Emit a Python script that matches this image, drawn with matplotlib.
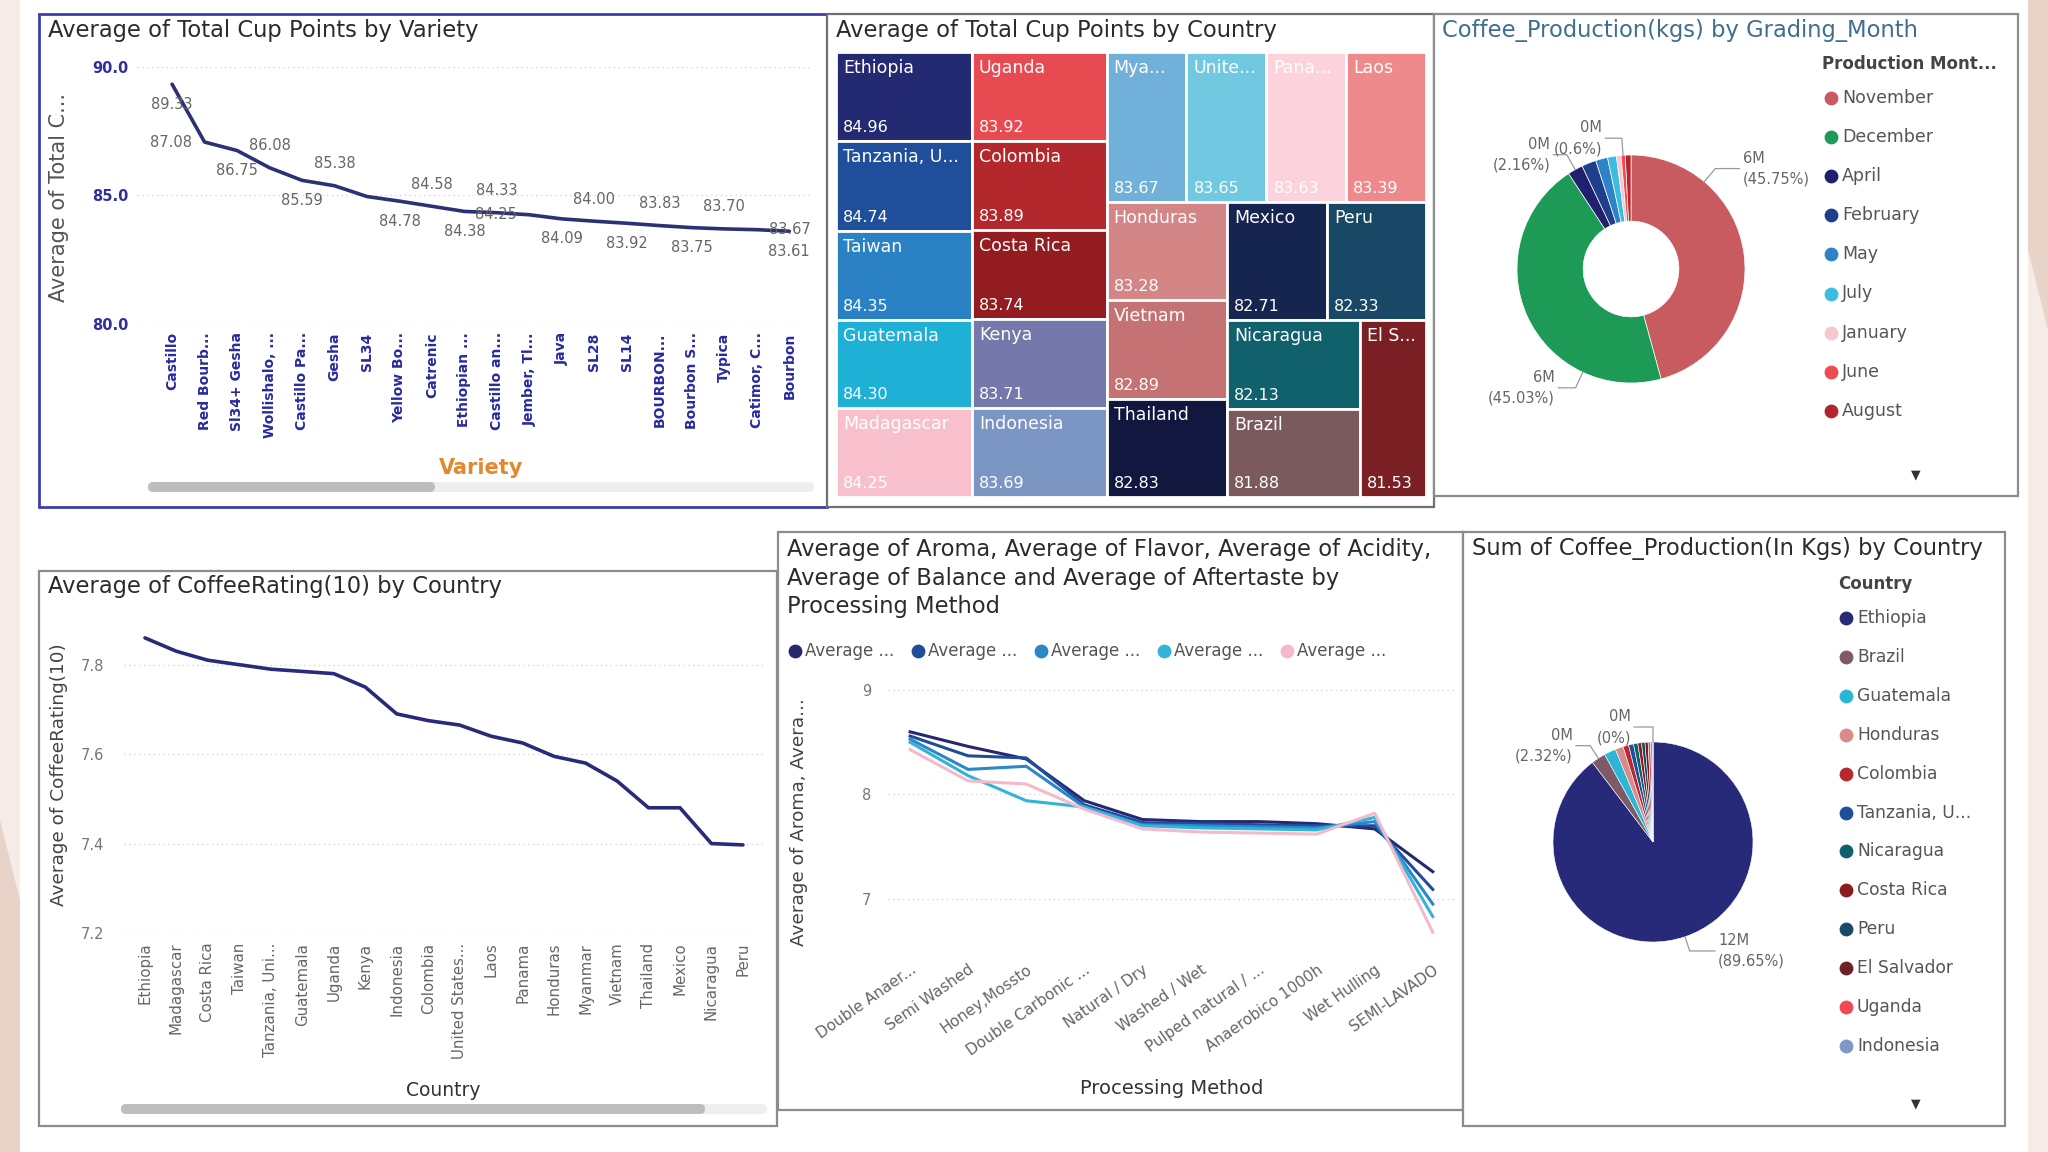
import math
import matplotlib
matplotlib.use("Agg")
import matplotlib.pyplot as plt
from matplotlib.patches import Rectangle, Polygon, FancyBboxPatch

W, H = 2048, 1152
plt.rcParams['font.family'] = ['DejaVu Sans']

# ---------------- data ----------------
varieties = ['Castillo', 'Red Bourb...', 'Sl34+ Gesha', 'Wollishalo, ...', 'Castillo Pa...', 'Gesha',
             'SL34', 'Yellow Bo...', 'Catrenic', 'Ethiopian ...', 'Castillo an...', 'Jember, Tl...',
             'Java', 'SL28', 'SL14', 'BOURBON...', 'Bourbon S...', 'Typica', 'Catimor, C...', 'Bourbon']
variety_points = [89.33, 87.08, 86.75, 86.08, 85.59, 85.38, 84.96, 84.78, 84.58, 84.38, 84.33, 84.25,
                  84.09, 84.00, 83.92, 83.83, 83.75, 83.70, 83.67, 83.61]
variety_labelled = [True] * 6 + [False] + [True] * 13

tm_names = ['Ethiopia', 'Tanzania, U...', 'Taiwan', 'Guatemala', 'Madagascar',
            'Uganda', 'Colombia', 'Costa Rica', 'Kenya', 'Indonesia',
            'Mya...', 'Unite...', 'Pana...', 'Laos',
            'Honduras', 'Vietnam', 'Thailand', 'Mexico', 'Peru', 'Nicaragua', 'Brazil', 'El S...']
tm_points = [84.96, 84.74, 84.35, 84.30, 84.25, 83.92, 83.89, 83.74, 83.71, 83.69,
             83.67, 83.65, 83.63, 83.39, 83.28, 82.89, 82.83, 82.71, 82.33, 82.13, 81.88, 81.53]
tm_colors = ['#232a72', '#1f4e9b', '#2a82c5', '#1fb0d5', '#f8c0cc',
             '#e84a51', '#b2282d', '#921c20', '#7478aa', '#7c96c4',
             '#70b0d9', '#70c9e0', '#fcd3dc', '#ee8a8c',
             '#d48687', '#c47273', '#12173f', '#15254f', '#184865', '#10616b', '#7b5a5e', '#7a2024']

months = ['November', 'December', 'April', 'February', 'May', 'July', 'January', 'June', 'August']
month_kgs = [6117000, 6021000, 288800, 274000, 227000, 168500, 87000, 80200, 106500]
month_colors = ['#c75b5f', '#1c9a56', '#20206e', '#1f3f8c', '#2f82c6', '#3bbce0', '#f6c6d1', '#ef4b55', '#b3242d']

rating_countries = ['Ethiopia', 'Madagascar', 'Costa Rica', 'Taiwan', 'Tanzania, Uni...', 'Guatemala',
                    'Uganda', 'Kenya', 'Indonesia', 'Colombia', 'United States...', 'Laos', 'Panama',
                    'Honduras', 'Myanmar', 'Vietnam', 'Thailand', 'Mexico', 'Nicaragua', 'Peru']
rating_values = [7.86, 7.83, 7.81, 7.80, 7.79, 7.785, 7.78, 7.75, 7.69, 7.675, 7.665, 7.64, 7.625,
                 7.595, 7.58, 7.54, 7.48, 7.48, 7.40, 7.397]

methods = ['Double Anaer...', 'Semi Washed', 'Honey,Mossto', 'Double Carbonic ...', 'Natural / Dry',
           'Washed / Wet', 'Pulped natural / ...', 'Anaerobico 1000h', 'Wet Hulling', 'SEMI-LAVADO']
aroma = [8.60, 8.46, 8.34, 7.94, 7.76, 7.74, 7.74, 7.72, 7.67, 7.26]
flavor = [8.56, 8.37, 8.35, 7.90, 7.73, 7.72, 7.71, 7.70, 7.70, 7.09]
acidity = [8.53, 8.24, 8.27, 7.88, 7.71, 7.70, 7.69, 7.68, 7.74, 6.95]
balance = [8.50, 8.18, 7.94, 7.88, 7.70, 7.68, 7.67, 7.66, 7.78, 6.83]
aftertaste = [8.43, 8.13, 8.10, 7.86, 7.67, 7.64, 7.63, 7.62, 7.82, 6.68]
attr_colors = ['#27276f', '#1f4d9c', '#2b87c8', '#33b3d8', '#f4b9ca']

prod_countries = ['Ethiopia', 'Brazil', 'Guatemala', 'Honduras', 'Colombia', 'Tanzania, U...',
                  'Nicaragua', 'Costa Rica', 'Peru', 'El Salvador', 'Uganda', 'Indonesia', 'Panama']
prod_kgs = [11986500, 310200, 254000, 174000, 120300, 107000, 93600, 80200, 73500, 66900, 53500, 50800, 500]
prod_colors = ['#262a78', '#7d5a66', '#2bb5d6', '#d98a8c', '#b8292e', '#1f4f9a', '#10606b',
               '#8f1a1e', '#1a4a6a', '#6e2228', '#ef4a55', '#7e98c5', '#c9a0b0']

TITLE = '#2b2b2b'
GREY = '#666666'


def box(x0, y0, x1, y1):
    return [x0 / W, 1 - y1 / H, (x1 - x0) / W, (y1 - y0) / H]


def fmt_pct(p):
    s = '%.2f' % p
    return s.rstrip('0').rstrip('.')


def fmt_label(kg, total):
    return '%dM\n(%s%%)' % (round(kg / 1e6), fmt_pct(kg / total * 100))


fig = plt.figure(figsize=(W / 100, H / 100), dpi=100)
fig.patch.set_facecolor('white')

# overlay in pixel coordinates for frames, titles and legends
ov = fig.add_axes([0, 0, 1, 1], zorder=0)
ov.set_xlim(0, W)
ov.set_ylim(H, 0)
ov.axis('off')

# decorative side strips
ov.add_patch(Rectangle((0, 0), 20, H, color='#f5ece8', lw=0))
ov.add_patch(Polygon([(0, 820), (20, 900), (20, H), (0, H)], color='#e8d3c9', lw=0))
ov.add_patch(Rectangle((2028, 0), 20, H, color='#f5ece8', lw=0))
ov.add_patch(Polygon([(2028, 0), (2048, 0), (2048, 330), (2028, 250)], color='#e8d3c9', lw=0))


def panel(x0, y0, x1, y1, color='#8c8c8c', lw=1.6):
    ov.add_patch(Rectangle((x0, y0), x1 - x0, y1 - y0, facecolor='white', edgecolor=color, lw=lw))


def scrollbar(x0, x1, xt, y):
    ov.add_patch(FancyBboxPatch((x0, y - 5), x1 - x0, 10, boxstyle='round,pad=0,rounding_size=5',
                                color='#eeeeee', lw=0))
    ov.add_patch(FancyBboxPatch((x0, y - 5), xt - x0, 10, boxstyle='round,pad=0,rounding_size=5',
                                color='#bdbdbd', lw=0))


panel(39, 14, 827, 507, color='#3c3cae', lw=2)
panel(827, 14, 1434, 507, color='#6f6f6f')
panel(1434, 14, 2018, 496)
panel(39, 571, 777, 1126)
panel(778, 532, 1463, 1110)
panel(1463, 532, 2005, 1126)

TS = 16.3
tkw = dict(fontsize=TS, color=TITLE, va='center', ha='left')
ov.text(48, 31, 'Average of Total Cup Points by Variety', **tkw)
ov.text(836, 31, 'Average of Total Cup Points by Country', **tkw)
ov.text(1442, 31, 'Coffee_Production(kgs) by Grading_Month', fontsize=TS, color='#3e6f8e', va='center')
ov.text(48, 587, 'Average of CoffeeRating(10) by Country', **tkw)
ov.text(787, 578, 'Average of Aroma, Average of Flavor, Average of Acidity,\n'
        'Average of Balance and Average of Aftertaste by\nProcessing Method',
        fontsize=TS, color=TITLE, va='center', ha='left', linespacing=1.3)
ov.text(1472, 548, 'Sum of Coffee_Production(In Kgs) by Country', **tkw)

# ---------------- panel 1: line by variety ----------------
ax1 = fig.add_axes(box(137, 67, 812, 324), zorder=2)
ax1.set_facecolor('none')
x1 = list(range(len(varieties)))
ax1.plot(x1, variety_points, color='#2c3175', lw=2.6, clip_on=False, solid_capstyle='round')
ax1.set_ylim(80, 90)
ax1.set_xlim(-1.08, len(varieties) - 1 + 0.7)
ax1.set_yticks([80, 85, 90])
ax1.set_yticklabels(['80.0', '85.0', '90.0'], fontsize=10.5, fontweight='bold', color='#2f2fa0')
ax1.set_xticks(x1)
ax1.set_xticklabels(varieties, rotation=90, fontsize=10, fontweight='bold', color='#2a2aa0',
                    va='top', ha='center')
ax1.tick_params(length=0, pad=6)
ax1.grid(axis='y', color='#d6d6d6', linestyle=(0, (1, 2.5)), lw=1)
for s in ax1.spines.values():
    s.set_visible(False)
offsets = [(0, -20), (-34, 0), (0, -20), (0, 22), (0, -20), (0, 22), (0, 0), (0, -20), (0, 22),
           (0, -20), (0, 22), (-33, 0), (0, -20), (0, 22), (0, -20), (0, 22), (0, -20), (0, 22),
           (33, 0), (0, -20)]
for xi, v, show, off in zip(x1, variety_points, variety_labelled, offsets):
    if show:
        ax1.annotate('%.2f' % v, (xi, v), xytext=off, textcoords='offset pixels',
                     ha='center', va='center', fontsize=10.5, color=GREY)
ov.text(59, 198, 'Average of Total C...', rotation=90, fontsize=15, color='#555555',
        ha='center', va='center')
ov.text(481, 468, 'Variety', fontsize=15, fontweight='bold', color='#e0892e', ha='center', va='center')
scrollbar(148, 814, 435, 487)

# ---------------- panel 2: treemap ----------------


def worst(row, side):
    thick = sum(row) / side
    return max(max(thick / (a / thick), (a / thick) / thick) for a in row)


def treemap_rects(values, x, y, w, h, limit=2.0):
    total = float(sum(values))
    areas = [v * w * h / total for v in values]
    rects = []
    i = 0
    while i < len(areas):
        side = min(w, h)
        row = [areas[i]]
        j = i + 1
        while j < len(areas):
            cand = row + [areas[j]]
            if worst(cand, side) <= max(worst(row, side), limit):
                row = cand
                j += 1
            else:
                break
        thick = sum(row) / side
        if w >= h:
            yy = y
            for a in row:
                rects.append((x, yy, thick, a / thick))
                yy += a / thick
            x += thick
            w -= thick
        else:
            xx = x
            for a in row:
                rects.append((xx, y, a / thick, thick))
                xx += a / thick
            y += thick
            h -= thick
        i = j
    return rects


tw, th = 590, 445
ax2 = fig.add_axes(box(836, 52, 836 + tw, 52 + th), zorder=2)
ax2.set_xlim(0, tw)
ax2.set_ylim(th, 0)
ax2.axis('off')
for (rx, ry, rw, rh), name, val, col in zip(treemap_rects(tm_points, 0, 0, tw, th),
                                             tm_names, tm_points, tm_colors):
    ax2.add_patch(Rectangle((rx, ry), rw, rh, facecolor=col, edgecolor='white', lw=2))
    ax2.text(rx + 7, ry + 7, name, color='white', fontsize=12.5, ha='left', va='top')
    ax2.text(rx + 7, ry + rh - 6, '%.2f' % val, color='white', fontsize=11.5, ha='left', va='bottom')

# ---------------- panel 3: donut ----------------
R3 = 114
ax3 = fig.add_axes(box(1631 - 150, 269 - 150, 1631 + 150, 269 + 150), zorder=2)
ax3.pie(month_kgs, colors=month_colors, startangle=90, counterclock=False, radius=1,
        wedgeprops=dict(width=0.58, edgecolor='white', lw=0.5))
L3 = 150 / R3
ax3.set_xlim(-L3, L3)
ax3.set_ylim(-L3, L3)


def leader(ax, ang, text, tx, ha):
    a = math.radians(ang)
    p0 = (math.sin(a), math.cos(a))
    p1 = (1.15 * math.sin(a), 1.15 * math.cos(a))
    end = tx + (-0.03 if ha == 'left' else 0.03)
    ax.plot([p0[0], p1[0], end], [p0[1], p1[1], p1[1]], color='#9a9a9a', lw=0.9, clip_on=False)
    ax.text(tx, p1[1], text, ha=ha, va='center', fontsize=10.5, color=GREY, multialignment=ha,
            linespacing=1.5)


mtotal = float(sum(month_kgs))
leader(ax3, 40, fmt_label(month_kgs[0], mtotal), (1743 - 1631) / R3, 'left')
leader(ax3, 205, fmt_label(month_kgs[1], mtotal), (1555 - 1631) / R3, 'right')
leader(ax3, 330.7, fmt_label(month_kgs[2], mtotal), (1550 - 1631) / R3, 'right')
leader(ax3, 356, fmt_label(month_kgs[7], mtotal), (1602 - 1631) / R3, 'right')

ov.text(1822, 64, 'Production Mont...', fontsize=12, fontweight='bold', color='#444444', va='center')
for i, (m, c) in enumerate(zip(months, month_colors)):
    yy = 98 + i * 39.1
    ov.scatter([1831], [yy], s=80, color=c, zorder=3)
    ov.text(1842, yy, m, fontsize=12.5, color='#555555', va='center')
ov.text(1916, 475, '\u25bc', fontsize=9, color='#333333', ha='center', va='center')

# ---------------- panel 4: rating by country ----------------
ax4 = fig.add_axes(box(124, 620, 764, 933), zorder=2)
ax4.set_facecolor('none')
x4 = list(range(len(rating_countries)))
ax4.plot(x4, rating_values, color='#2a2a7a', lw=2.6, solid_capstyle='round')
ax4.set_ylim(7.2, 7.9)
ax4.set_xlim(-0.667, len(rating_countries) - 1 + 0.67)
ax4.set_yticks([7.2, 7.4, 7.6, 7.8])
ax4.set_yticklabels(['7.2', '7.4', '7.6', '7.8'], fontsize=10.5, color='#777777')
ax4.set_xticks(x4)
ax4.set_xticklabels(rating_countries, rotation=90, fontsize=10.8, color=GREY, va='top', ha='center')
ax4.tick_params(axis='y', length=0, pad=14)
ax4.tick_params(axis='x', length=0, pad=7)
ax4.grid(axis='y', color='#d6d6d6', linestyle=(0, (1, 2.5)), lw=1)
for s in ax4.spines.values():
    s.set_visible(False)
ov.text(59, 775, 'Average of CoffeeRating(10)', rotation=90, fontsize=13.3, color='#444444',
        ha='center', va='center')
ov.text(443, 1091, 'Country', fontsize=13.5, color='#333333', ha='center', va='center')
scrollbar(121, 767, 705, 1109)

# ---------------- panel 5: attributes by processing method ----------------
ax5 = fig.add_axes(box(888, 664, 1456, 951), zorder=2)
ax5.set_facecolor('none')
x5 = list(range(len(methods)))
for series, c in zip([aroma, flavor, acidity, balance, aftertaste], attr_colors):
    ax5.plot(x5, series, color=c, lw=2.2, solid_joinstyle='round')
ax5.set_ylim(6.5, 9.25)
ax5.set_xlim(-0.38, len(methods) - 1 + 0.4)
ax5.set_yticks([7, 8, 9])
ax5.set_yticklabels(['7', '8', '9'], fontsize=10.5, color='#777777')
ax5.set_xticks(x5)
ax5.set_xticklabels(methods, rotation=35, ha='right', rotation_mode='anchor', fontsize=11, color=GREY)
ax5.tick_params(axis='y', length=0, pad=12)
ax5.tick_params(axis='x', length=0, pad=8)
ax5.grid(axis='y', color='#d6d6d6', linestyle=(0, (1, 2.5)), lw=1)
for s in ax5.spines.values():
    s.set_visible(False)
for i, c in enumerate(attr_colors):
    xx = 795 + i * 123
    ov.scatter([xx], [651], s=80, color=c, zorder=3)
    ov.text(xx + 10, 651, 'Average ...', fontsize=12, color='#555555', va='center')
ov.text(799, 822, 'Average of Aroma, Avera...', rotation=90, fontsize=13.3, color='#444444',
        ha='center', va='center')
ov.text(1172, 1088, 'Processing Method', fontsize=14, color='#333333', ha='center', va='center')

# ---------------- panel 6: production by country pie ----------------
R6 = 100
ax6 = fig.add_axes(box(1653 - 130, 842 - 130, 1653 + 130, 842 + 130), zorder=2)
ax6.pie(prod_kgs, colors=prod_colors, startangle=90, counterclock=False, radius=1,
        wedgeprops=dict(edgecolor='white', lw=0.4))
L6 = 130 / R6
ax6.set_xlim(-L6, L6)
ax6.set_ylim(-L6, L6)
ptotal = float(sum(prod_kgs))
cum = 0.0
mids = []
for v in prod_kgs:
    mids.append((cum + v / 2) / ptotal * 360)
    cum += v
leader(ax6, mids[0], fmt_label(prod_kgs[0], ptotal), (1718 - 1653) / R6, 'left')
leader(ax6, mids[1], fmt_label(prod_kgs[1], ptotal), (1573 - 1653) / R6, 'right')
leader(ax6, mids[-1], fmt_label(prod_kgs[-1], ptotal), (1631 - 1653) / R6, 'right')

ov.text(1838, 584, 'Country', fontsize=12, fontweight='bold', color='#444444', va='center')
for i, (cn, c) in enumerate(zip(prod_countries[:12], prod_colors[:12])):
    yy = 618 + i * 38.9
    ov.scatter([1846], [yy], s=80, color=c, zorder=3)
    ov.text(1857, yy, cn, fontsize=12.3, color='#555555', va='center')
ov.text(1916, 1104, '\u25bc', fontsize=9, color='#333333', ha='center', va='center')

fig.savefig('out.png', dpi=100)
